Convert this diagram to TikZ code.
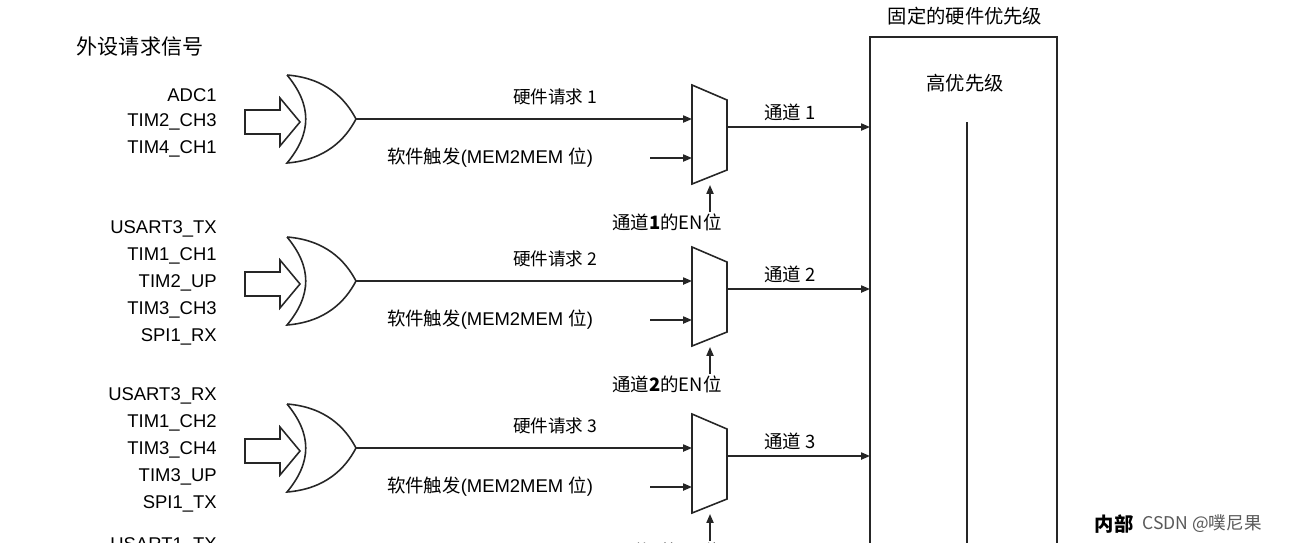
\documentclass[tikz,border=0pt]{standalone}
\usepackage{fontspec}
\setmainfont{Liberation Sans}
\newfontfamily\cjk{Noto Sans CJK SC}
\usetikzlibrary{arrows.meta}
\begin{document}
\begin{tikzpicture}[x=0.02cm,y=-0.02cm,
  lbl/.style={font=\fontsize{10.5}{12}\selectfont,inner sep=0pt},
  ln/.style={line width=0.9pt,draw=black!85},
  arr/.style={ln,-{Triangle[length=5pt,width=4pt]}}]
\useasboundingbox (0,0) rectangle (1291,542);
\begin{scope}
\clip (0,0) rectangle (1291,542);
\node[lbl,font=\fontsize{12}{14}\selectfont\cjk] (t1) at (140,47) {外设请求信号};
\node[lbl,font=\fontsize{11}{13}\selectfont\cjk] (t2) at (965,16) {固定的硬件优先级};
\draw[ln,line width=1.3pt] (870,560) |- (1057,37) -- (1057,560);
\node[lbl,font=\fontsize{11}{13}\selectfont\cjk] (hp) at (965,83) {高优先级};
\draw[ln] (967,122) -- (967,560);
\node[lbl,font=\fontsize{11}{13}\selectfont\cjk\bfseries] (nb) at (1114,524) {内部};
\node[lbl,font=\fontsize{10}{12}\selectfont\cjk,text=black!65,anchor=west] (wm) at (1142,524) {CSDN @噗尼果};
\node[lbl,anchor=east] (in4-1) at (217,546) {USART1\_TX};
\foreach \k/\o/\lst in {1/0/{ADC1,TIM2\_CH3,TIM4\_CH1},2/162/{USART3\_TX,TIM1\_CH1,TIM2\_UP,TIM3\_CH3,SPI1\_RX},3/329/{USART3\_RX,TIM1\_CH2,TIM3\_CH4,TIM3\_UP,SPI1\_TX}}{
  \begin{scope}[yshift={-\o*0.02cm}]
  \foreach \s [count=\i] in \lst {
    \node[lbl,anchor=east] (in\k-\i) at (217,{(\k==1 ? 95 : 67)+(\i-1)*27}) {\s};
  }
  \draw[ln] (245,110) -- (280,110) -- (280,98) -- (300,122) -- (280,146) -- (280,134) -- (245,134) -- cycle;
  \draw[ln] (287,75) .. controls (312,105) and (312,133) .. (287,163)
    .. controls (325,160) and (345,140) .. (356,119)
    .. controls (345,98) and (325,78) .. (287,75);
  \coordinate (g\k) at (356,119);
  \draw[ln] (692,85) -- (727,100) -- (727,170) -- (692,184) -- cycle;
  \coordinate (m\k) at (692,119);
  \draw[arr] (g\k) -- (m\k);
  \coordinate (s\k) at (650,158);
  \draw[arr] (s\k) -- (692,158);
  \coordinate (e\k) at (710,212);
  \draw[arr] (e\k) -- (710,185);
  \draw[arr] (727,127) -- (870,127);
  \node[lbl,font=\fontsize{10}{12}\selectfont\cjk] (hw\k) at (555,97) {硬件请求 \k};
  \node[lbl] (sw\k) at (490,158) {{\cjk 软件触发}(MEM2MEM {\cjk 位})};
  \node[lbl,font=\fontsize{10.5}{12}\selectfont\cjk] (en\k) at (667,222) {通道\textbf{\k}的EN位};
  \node[lbl,font=\fontsize{10.5}{12}\selectfont\cjk] (ch\k) at (790,112) {通道 \k};
  \end{scope}
}
\end{scope}
\end{tikzpicture}
\end{document}
